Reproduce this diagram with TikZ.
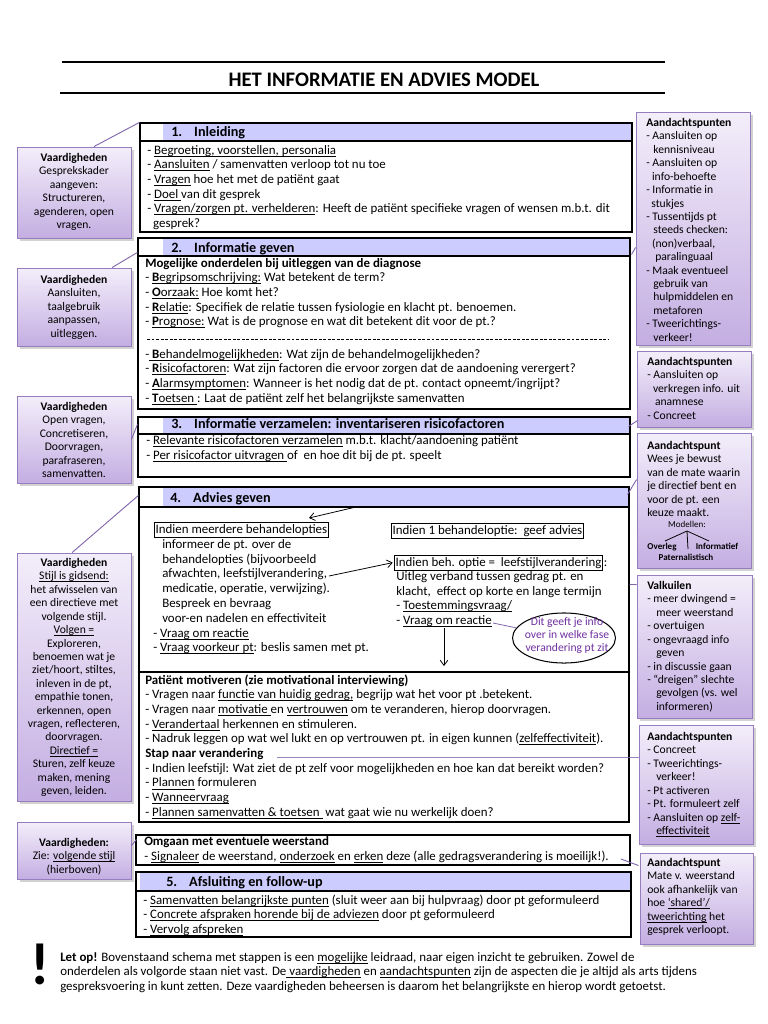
\documentclass[tikz,border=0pt]{standalone}
\usepackage{fontspec}
\setmainfont{Carlito}
\usetikzlibrary{fit,shapes.geometric,shadows,arrows.meta,calc}
\definecolor{hdrcol}{RGB}{204,204,255}
\definecolor{sTop}{RGB}{243,238,250}
\definecolor{sBot}{RGB}{196,174,226}
\definecolor{sBord}{RGB}{150,125,190}
\definecolor{conncol}{RGB}{128,100,170}
\definecolor{ellcol}{RGB}{112,48,160}
\newsavebox\ulbox
\newcommand\uline[1]{\sbox\ulbox{#1}\rlap{\rule[-1.75pt]{\wd\ulbox}{0.55pt}}\usebox{\ulbox}}
\newcommand\TL[1]{\begin{tabular}[t]{@{}l@{}}#1\end{tabular}}
\newcommand\TC[1]{\begin{tabular}[t]{@{}c@{}}#1\end{tabular}}
\newcommand\ind{\hspace*{5.5pt}}
\begin{document}
\begin{tikzpicture}[x=0.775pt,y=-0.775pt,
  txt/.style={anchor=base west, inner sep=0pt, font=\fontsize{10}{11.4}\selectfont},
  stxt/.style={anchor=base west, inner sep=0pt, font=\fontsize{9}{10.4}\selectfont},
  sctxt/.style={anchor=base, inner sep=0pt, font=\fontsize{9}{10.4}\selectfont},
  hdrtxt/.style={anchor=base west, inner sep=0pt, font=\fontsize{11}{13}\selectfont\bfseries},
  mbox/.style={draw, line width=0.9pt, inner sep=0pt},
  sbox/.style={draw=sBord, line width=0.7pt, inner sep=0pt, top color=sTop, bottom color=sBot,
     drop shadow={shadow xshift=2pt, shadow yshift=-2.5pt, opacity=0.35}},
  conn/.style={draw=conncol, line width=0.7pt},
  framed/.style={txt, draw, line width=0.6pt, inner xsep=1pt, inner ysep=1.6pt},
  arr/.style={-{Straight Barb[length=4pt,width=6pt]}, line width=0.6pt},
  tiny/.style={inner sep=0pt, font=\fontsize{7}{8}\selectfont}
]
\useasboundingbox (0,0) rectangle (768,1024);
\fill[white] (0,0) rectangle (768,1024);

% ---------- title ----------
\coordinate (tl1) at (62,62); \coordinate (tr1) at (665,62);
\coordinate (tl2) at (60,93); \coordinate (tr2) at (665,93);
\draw[line width=0.8pt] (tl1) -- (tr1);
\draw[line width=0.8pt] (tl2) -- (tr2);
\node[anchor=base, inner sep=0pt, font=\fontsize{16}{18}\selectfont\bfseries] (title) at (384,86) {HET INFORMATIE EN ADVIES MODEL};

% ---------- header bands ----------
\fill[hdrcol] (163,123) rectangle (632,141);
\fill[hdrcol] (163,238) rectangle (630,256);
\fill[hdrcol] (163,417) rectangle (630,434);
\fill[hdrcol] (163,487) rectangle (629,507);
\fill[hdrcol] (140,872) rectangle (631,891);
\draw[line width=0.9pt] (140,141) -- (632,141);
\draw[line width=0.9pt] (138,256) -- (630,256);
\draw[line width=0.9pt] (138,434) -- (630,434);
\draw[line width=0.9pt] (139,507) -- (629,507);
\draw[line width=0.9pt] (136,891) -- (631,891);
\draw[line width=0.9pt] (139,672) -- (629,672);

% ---------- main boxes ----------
\node[mbox, fit={(140,123) (632,232)}] (b1) {};
\node[mbox, fit={(138,238) (630,409)}] (b2) {};
\node[mbox, fit={(138,417) (630,477)}] (b3) {};
\node[mbox, fit={(139,487) (629,822)}] (b4) {};
\node[mbox, fit={(136,835) (630,865)}] (om) {};
\node[mbox, fit={(136,872) (631,937)}] (b5) {};

% ---------- headers ----------
\node[hdrtxt] (h1) at (171,136.5) {\makebox[17.8pt][l]{1.}Inleiding};
\node[hdrtxt] (h2) at (171,252) {\makebox[17.8pt][l]{2.}Informatie geven};
\node[hdrtxt] (h3) at (171,428.5) {\makebox[17.8pt][l]{3.}Informatie verzamelen: inventariseren risicofactoren};
\node[hdrtxt] (h4) at (170,502) {\makebox[17.8pt][l]{4.}Advies geven};
\node[hdrtxt] (h5) at (166,886.5) {\makebox[17.8pt][l]{5.}Afsluiting en follow-up};

% ---------- box 1 ----------
\node[txt] (b1t) at (147,154) {\TL{- \uline{Begroeting, voorstellen, personalia}\\
- \uline{Aansluiten} / samenvatten verloop tot nu toe\\
- \uline{Vragen} hoe het met de patiënt gaat\\
- \uline{Doel\ }van dit gesprek\\
- \uline{Vragen/zorgen pt. verhelderen}: Heeft de patiënt specifieke vragen of wensen m.b.t. dit\\
\hspace*{4.6pt}gesprek?}};

% ---------- box 2 ----------
\node[txt] (b2t) at (145,267) {\TL{\textbf{Mogelijke onderdelen bij uitleggen van de diagnose}\\
- \uline{\textbf{B}egripsomschrijving:} Wat betekent de term?\\
- \uline{\textbf{O}orzaak:} Hoe komt het?\\
- \uline{\textbf{R}elatie}: Specifiek de relatie tussen fysiologie en klacht pt. benoemen.\\
- \uline{\textbf{P}rognose:} Wat is de prognose en wat dit betekent dit voor de pt.?}};
\draw[dash pattern=on 2.3pt off 1.2pt, line width=0.5pt] (147,339) -- (608,339);
\node[txt] (b2u) at (145,358) {\TL{-\uline{\ \textbf{B}ehandelmogelijkheden}: Wat zijn de behandelmogelijkheden?\\
- \uline{\textbf{R}isicofactoren}: Wat zijn factoren die ervoor zorgen dat de aandoening verergert?\\
- \uline{\textbf{A}larmsymptomen}: Wanneer is het nodig dat de pt. contact opneemt/ingrijpt?\\
- \uline{\textbf{T}oetsen\ }: Laat de patiënt zelf het belangrijkste samenvatten}};

% ---------- box 3 ----------
\node[txt] (b3t) at (146,444.5) {\TL{- \uline{Relevante risicofactoren verzamelen} m.b.t. klacht/aandoening patiënt\\
- \uline{Per risicofactor uitvragen\ }of\ \ en hoe dit bij de pt. speelt}};

% ---------- box 4 ----------
\node[framed] (m1) at (154,533) {Indien meerdere behandelopties};
\node[txt] (m1b) at (162,548.5) {\TL{informeer de pt. over de\\
behandelopties (bijvoorbeeld\\
afwachten, leefstijlverandering,\\
medicatie, operatie, verwijzing).\\
Bespreek en bevraag\\
voor-en nadelen en effectiviteit}};
\node[txt] (m1c) at (153,637) {\TL{- \uline{Vraag om reactie}\\
- \uline{Vraag voorkeur pt}: beslis samen met pt.}};

\node[framed] (m2) at (391,534) {Indien 1 behandeloptie:\ \ geef advies};
\node[framed] (m3) at (394,566) {Indien beh. optie =\ \ leefstijlverandering};
\node[txt] (m3c) at ([xshift=0.3pt]m3.base east) {:};
\node[txt] (m3b) at (396,580.5) {\TL{Uitleg verband tussen gedrag pt. en\\
klacht,\ \ effect op korte en lange termijn\\
- \uline{Toestemmingsvraag/}\\
- \uline{Vraag om reactie}}};

\node[draw, ellipse, line width=0.8pt, minimum width=79.8pt, minimum height=38.8pt, inner sep=0pt] (ell) at (564,638) {};
\node[anchor=base, inner sep=0pt, font=\fontsize{9}{10.1}\selectfont, text=ellcol] (ellt) at (567,625.5) {\TC{Dit geeft je info\\ over in welke fase\\ verandering pt zit}};

\coordinate (a1s) at (356,507);
\coordinate (a1e) at (309,518);
\draw[arr] (a1s) -- (a1e);
\coordinate (a2s) at (329,576);
\draw[arr] (a2s) -- ([xshift=-1pt]m3.west);
\coordinate (a3s) at (444,628);
\coordinate (a3e) at (444,666);
\draw[arr] (a3s) -- (a3e);
\coordinate (vr) at (493,623);
\draw[conn, line width=0.6pt] (vr) -- (ell.168);

\node[txt] (b4l) at (145,684) {\TL{\textbf{Patiënt motiveren (zie motivational interviewing)}\\
- Vragen naar \uline{functie van huidig gedrag,} begrijp wat het voor pt .betekent.\\
- Vragen naar \uline{motivatie\ }en \uline{vertrouwen} om te veranderen, hierop doorvragen.\\
- \uline{Verandertaal} herkennen en stimuleren.\\
- Nadruk leggen op wat wel lukt en op vertrouwen pt. in eigen kunnen (\uline{zelfeffectiviteit}).\\
\textbf{Stap naar verandering}\\
- Indien leefstijl: Wat ziet de pt zelf voor mogelijkheden en hoe kan dat bereikt worden?\\
- \uline{Plannen} formuleren\\
- \uline{Wanneervraag}\\
- \uline{Plannen samenvatten \& toetsen\ }\ wat gaat wie nu werkelijk doen?}};

% ---------- weerstand ----------
\node[txt] (omt) at (144,845.5) {\TL{\textbf{Omgaan met eventuele weerstand}\\
- \uline{Signaleer} de weerstand, \uline{onderzoek} en \uline{erken} deze (alle gedragsverandering is moeilijk!).}};

% ---------- box 5 ----------
\node[txt] (b5t) at (143,904) {\TL{- \uline{Samenvatten belangrijkste punten} (sluit weer aan bij hulpvraag) door pt geformuleerd\\
- \uline{Concrete afspraken horende bij de adviezen} door pt geformuleerd\\
- \uline{Vervolg afspreken}}};

% ---------- note ----------
\node[inner sep=0pt, font=\fontsize{46}{46}\selectfont\bfseries] (excl) at (40,964) {!};
\node[txt] (note) at (60,961) {\TL{\textbf{Let op!} Bovenstaand schema met stappen is een \uline{mogelijke} leidraad, naar eigen inzicht te gebruiken. Zowel de\\
onderdelen als volgorde staan niet vast. De\uline{\ vaardigheden} en \uline{aandachtspunten} zijn de aspecten die je altijd als arts tijdens\\
gespreksvoering in kunt zetten. Deze vaardigheden beheersen is daarom het belangrijkste en hierop wordt getoetst.}};

% ---------- left side boxes ----------
\node[sbox, fit={(17,147) (131,238)}] (L1) {};
\node[sctxt] (L1t) at (74,161.5) {\TC{\textbf{Vaardigheden}\\ Gesprekskader\\ aangeven:\\ Structureren,\\ agenderen, open\\ vragen.}};
\node[sbox, fit={(17,268) (131,346)}] (L2) {};
\node[sctxt] (L2t) at (74,283.5) {\TC{\textbf{Vaardigheden}\\ Aansluiten,\\ taalgebruik\\ aanpassen,\\ uitleggen.}};
\node[sbox, fit={(17,396) (131,483)}] (L3) {};
\node[sctxt] (L3t) at (74,410.5) {\TC{\textbf{Vaardigheden}\\ Open vragen,\\ Concretiseren,\\ Doorvragen,\\ parafraseren,\\ samenvatten.}};
\node[sbox, fit={(17,553) (131,801)}] (L4) {};
\node[sctxt] (L4t) at (74,566.5) {\TC{\textbf{Vaardigheden}\\ \uline{Stijl is gidsend:}\\ het afwisselen van\\ een directieve met\\ volgende stijl.\\ \uline{Volgen =}\\ Exploreren,\\ benoemen wat je\\ ziet/hoort, stiltes,\\ inleven in de pt,\\ empathie tonen,\\ erkennen, open\\ vragen, reflecteren,\\ doorvragen.\\ \uline{Directief =}\\ Sturen, zelf keuze\\ maken, mening\\ geven, leiden.}};
\node[sbox, fit={(17,822) (131,879)}] (L5) {};
\node[sctxt] (L5t) at (74,846.5) {\TC{\textbf{Vaardigheden:}\\ Zie: \uline{volgende stijl}\\ (hierboven)}};

% ---------- right side boxes ----------
\node[sbox, fit={(636,112) (750,345)}] (R1) {};
\node[stxt] (R1t) at (646,126.5) {\TL{\textbf{Aandachtspunten}\\ - Aansluiten op\\ \ind kennisniveau\\ - Aansluiten op\\ \hspace*{4.5pt}info-behoefte\\ - Informatie in\\ \hspace*{4pt}stukjes\\ - Tussentijds pt\\ \ind steeds checken:\\ \hspace*{4.5pt}(non)verbaal,\\ \hspace*{7pt}paralinguaal\\ - Maak eventueel\\ \ind gebruik van\\ \ind hulpmiddelen en\\ \ind metaforen\\ - Tweerichtings-\\ \ind verkeer!}};
\node[sbox, fit={(637,351) (751,427)}] (R2) {};
\node[stxt] (R2t) at (647,365.5) {\TL{\textbf{Aandachtspunten}\\ - Aansluiten op\\ \hspace*{4.5pt}verkregen info. uit\\ \hspace*{6pt}anamnese\\ - Concreet}};
\node[sbox, fit={(637,433) (751,568)}] (R3) {};
\node[stxt] (R3t) at (647,449.5) {\TL{\textbf{Aandachtspunt}\\ Wees je bewust\\ van de mate waarin\\ je directief bent en\\ voor de pt. een\\ keuze maakt.}};
\node[tiny, anchor=base] (mod) at (687,527) {Modellen:};
\node[tiny, anchor=base] (ovl) at (662,549) {\textbf{Overleg}};
\node[tiny, anchor=base] (inf) at (717,549) {\textbf{Informatief}};
\node[tiny, anchor=base] (pat) at (686,560) {\textbf{Paternalistisch}};
\coordinate (apx) at (687,531);
\coordinate (mdl) at (665,541);
\coordinate (mdr) at (709,541);
\coordinate (mdb) at (688,549);
\draw[line width=0.6pt] (mdl) -- (apx) -- (mdr);
\draw[line width=0.6pt] (apx) -- (mdb);
\node[sbox, fit={(637,575) (752,718)}] (R4) {};
\node[stxt] (R4t) at (647,589.5) {\TL{\textbf{Valkuilen}\\ - meer dwingend =\\ \hspace*{7pt}meer weerstand\\ - overtuigen\\ - ongevraagd info\\ \hspace*{7pt}geven\\ - in discussie gaan\\ - “dreigen” slechte\\ \hspace*{7pt}gevolgen (vs. wel\\ \hspace*{7pt}informeren)}};
\node[sbox, fit={(639,725) (753,844)}] (R5) {};
\node[stxt] (R5t) at (647,740.5) {\TL{\textbf{Aandachtspunten}\\ - Concreet\\ - Tweerichtings-\\ \hspace*{7pt}verkeer!\\ - Pt activeren\\ - Pt. formuleert zelf\\ - Aansluiten op \uline{zelf-}\\ \hspace*{7pt}\uline{effectiviteit}}};
\node[sbox, fit={(640,853) (753,944)}] (R6) {};
\node[stxt] (R6t) at (647,866.5) {\TL{\textbf{Aandachtspunt}\\ Mate v. weerstand\\ ook afhankelijk van\\ hoe \uline{‘shared’/}\\ \uline{tweerichting} het\\ gesprek verloopt.}};

% ---------- connectors ----------
\draw[conn] ([xshift=15.5pt]L1.north) -- (b1.north west);
\draw[conn] ([xshift=29.5pt]L2.north) -- ($(b2.north west)+(0,15)$);
\draw[conn] (L3.east) -- ($(b3.north west)+(0,8)$);
\draw[conn] ([xshift=-1.5pt]L4.north) -- ($(b4.north west)+(0,9)$);
\draw[conn] ($(L5.north east)+(0,24)$) -- ($(om.north west)+(1,5)$);
\draw[conn] ($(b2.north east)+(1,17)$) -- ($(R1.south west)+(0,-98)$);
\draw[conn] ($(b3.north east)+(-2,10)$) -- ($(R2.south west)+(1,-7)$);
\draw[conn] ($(b4.north east)+(-2,8)$) -- ($(R3.north west)+(0,47)$);
\draw[conn] ($(b4.north east)+(0,98)$) -- ($(R4.north west)+(0,10)$);
\coordinate (stp) at (277,757);
\draw[conn, draw opacity=0.8] (stp) -- (stp -| R5.west);
\coordinate (wst) at (621,859);
\draw[conn] (wst) -- ($(R6.north west)+(-1,13)$);
\end{tikzpicture}
\end{document}
